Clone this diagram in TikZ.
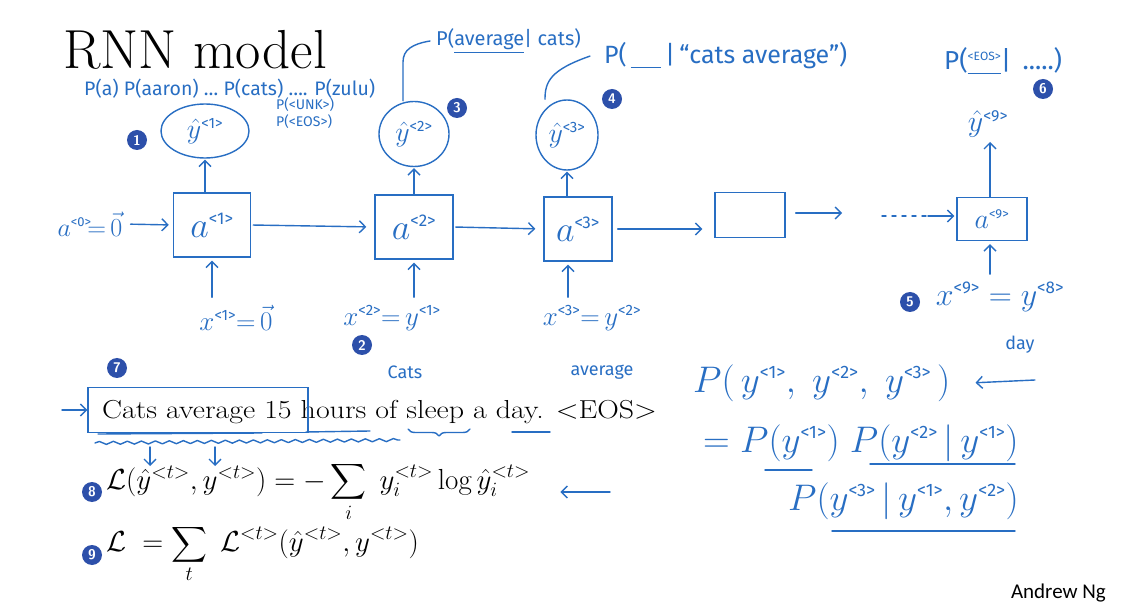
\RequirePackage{fix-cm}
\documentclass[tikz,border=0pt]{standalone}
\usepackage{amsmath}
\usepackage{fontspec}
\newfontfamily\handfont{Fira Sans}
\newfontfamily\ngfont{Carlito}
\usetikzlibrary{shapes.geometric,arrows.meta,decorations.pathmorphing,decorations.pathreplacing}
\definecolor{hb}{RGB}{40,110,195}
\definecolor{bb}{RGB}{45,80,170}
\newcommand{\fs}[1]{\fontsize{#1}{#1}\selectfont}
\newcommand{\ang}[2][14]{\text{\handfont\fontsize{#1}{#1}\selectfont<#2>}}
\begin{document}
\begin{tikzpicture}[x=1pt,y=-1pt,
  hand/.style={draw=hb, line width=1.4pt, line cap=round, line join=round},
  arr/.style={hand, -{Straight Barb[length=6pt,width=12pt]}},
  cell/.style={draw=hb, line width=1.4pt, inner sep=0pt, text=hb, font=\fs{36}},
  outc/.style={ellipse, draw=hb, line width=1.4pt, inner sep=0pt, text=hb, font=\fs{28}},
  lab/.style={text=hb, inner sep=0pt},
  badge/.style={circle, fill=bb, text=white, font=\sffamily\bfseries\fs{14}, minimum size=20pt, inner sep=0pt},
]
\useasboundingbox[fill=white] (0,0) rectangle (1143,609);

% title
\node[anchor=base west, inner sep=0pt, font=\fs{55}] (title) at (63,69) {RNN model};

% vocabulary
\node[lab, anchor=base west, font=\handfont\fs{19.5}] (voc) at (84,96) {P(a) P(aaron) \dots\ P(cats) \dots. P(zulu)};
\node[lab, anchor=base west, font=\handfont\fs{14}] (unk) at (276,110) {P(<UNK>)};
\node[lab, anchor=base west, font=\handfont\fs{14}] (eos) at (276,127) {P(<EOS>)};

% cells
\node[cell, minimum width=77pt, minimum height=64pt] (b1) at (212,225) {$a^{\ang[17]{1}}$};
\node[cell, minimum width=78pt, minimum height=64pt] (b2) at (414,227) {$a^{\ang[17]{2}}$};
\node[cell, minimum width=68pt, minimum height=64pt] (b3) at (578,229) {$a^{\ang[17]{3}}$};
\node[cell, minimum width=70pt, minimum height=45pt] (b4) at (750,215) {};
\node[cell, minimum width=70pt, minimum height=43pt, font=\fs{28}] (b5) at (992,219) {$a^{\ang[13]{9}}$};

% outputs
\node[outc, minimum width=88pt, minimum height=54pt] (e1) at (205,131) {$\hat{y}^{\ang[15]{1}}$};
\node[outc, minimum width=70pt, minimum height=65pt] (e2) at (414,134) {$\hat{y}^{\ang[15]{2}}$};
\node[outc, minimum width=62pt, minimum height=70pt] (e3) at (567,135) {$\hat{y}^{\ang[15]{3}}$};
\node[lab, font=\fs{30}] (e9) at (988,124) {$\hat{y}^{\ang[16]{9}}$};

% inputs
\node[lab, font=\fs{26}] (a0) at (90,224) {$a^{\ang[13]{0}}\!{=}\,\vec{0}$};
\node[lab, font=\fs{27}] (x1) at (236,318) {$x^{\ang[15]{1}}{=}\,\vec{0}$};
\node[lab, font=\fs{27}] (x2) at (392,318) {$x^{\ang[15]{2}}{=}\,y^{\ang[15]{1}}$};
\node[lab, font=\fs{27}] (x3) at (592,318) {$x^{\ang[15]{3}}{=}\,y^{\ang[15]{2}}$};
\node[lab, font=\fs{32}] (x9) at (1000,297) {$x^{\ang[17]{9}} = y^{\ang[17]{8}}$};
\node[lab, font=\handfont\fs{18}] (w2) at (405,372) {Cats};
\node[lab, font=\handfont\fs{18}] (w3) at (602,372) {average};
\node[lab, font=\handfont\fs{18}] (w9) at (1020,345) {day};

% probability labels
\node[lab, anchor=west, font=\handfont\fs{20}] (p2) at (436,41) {P(\underline{average}| cats)};
\node[lab, anchor=base west, font=\handfont\fs{25}] (p3) at (604,64) {P(\,\underline{\hspace{30pt}}\,|\,“cats average”)};
\node[lab, anchor=base west, font=\handfont\fs{26}] (p9) at (944,70) {P(\underline{\raisebox{9pt}{\fs{12}<EOS>}}|\, .....)};

% badges
\node[badge] (n1) at (137,140) {1};
\node[badge] (n2) at (362,345) {2};
\node[badge] (n3) at (457,108) {3};
\node[badge] (n4) at (612,99) {4};
\node[badge] (n5) at (910,302) {5};
\node[badge] (n6) at (1043,89) {6};
\node[badge] (n7) at (117,368) {7};
\node[badge] (n8) at (92,492) {8};
\node[badge] (n9) at (92,555) {9};

% horizontal connectors
\draw[arr, shorten <=8pt, shorten >=4pt] (a0.east) -- (b1.west);
\draw[arr, shorten <=2pt, shorten >=8pt] (b1.east) -- (b2.west);
\draw[arr, shorten <=2pt, shorten >=8pt] (b2.east) -- (b3.west);
\draw[arr, shorten <=5pt, shorten >=12pt] (b3.east) -- (b4.west |- b3.east);
\coordinate (c1) at (842,213);
\coordinate (d0) at (882,216);
\coordinate (d1) at (928,216);
\draw[arr, shorten <=10pt] (b4.east |- c1) -- (c1);
\draw[hand, dash pattern=on 4pt off 6pt] (d0) -- (d1);
\draw[arr, shorten >=2pt] (d1) -- (b5.west |- d1);

% vertical connectors
\draw[arr, shorten <=8pt, shorten >=3pt] (b1.south |- x1.north) -- (b1.south);
\draw[arr, shorten <=8pt, shorten >=3pt] (b2.south |- x2.north) -- (b2.south);
\draw[arr, shorten <=8pt, shorten >=3pt] ([xshift=-10pt]b3.south |- x3.north) -- ([xshift=-10pt]b3.south);
\draw[arr, shorten <=8pt, shorten >=3pt] ([xshift=-2pt]b5.south |- x9.north) -- ([xshift=-2pt]b5.south);
\draw[arr, shorten >=1pt] (b1.north -| e1.south) -- (e1.south);
\draw[arr, shorten >=1pt] (b2.north -| e2.south) -- (e2.south);
\draw[arr, shorten >=1pt] (b3.north -| e3.south) -- (e3.south);
\draw[arr, shorten >=4pt] ([xshift=-2pt]b5.north) -- ([xshift=-2pt]b5.north |- e9.south);

% brackets to probability labels
\draw[hand] ([xshift=-11pt]e2.north) -- (403,62) .. controls (403,50) and (412,44) .. ([xshift=-6pt]p2.west);
\draw[hand] ([xshift=-22pt]e3.north) .. controls (545,82) and (550,70) .. ([xshift=-14pt]p3.west);

% sentence
\node[anchor=base west, inner sep=0pt, font=\fs{26}] (sent) at (102,418) {\scalebox{1.15}[1]{Cats average 15 hours of sleep a day. <EOS>}};
\node[draw=hb, line width=1.4pt, inner sep=0pt, minimum width=220pt, minimum height=45pt] (sbox) at (198,410) {};
\coordinate (sa) at (62,410);
\draw[arr] (sa) -- (sbox.west);
\draw[hand] (98,434) -- (262,433);
\draw[hand, decorate, decoration={snake, amplitude=1.5pt, segment length=14pt}] (95,443) -- (400,440);
\draw[hand] (306,432) -- (370,431);
\draw[hand, decorate, decoration={brace, mirror, amplitude=7pt}] (408,429) -- (470,429);
\draw[hand] (512,432) -- (550,432);
\coordinate (dA) at (150,447);
\coordinate (dB) at (215,447);
\coordinate (dA2) at (150,466);
\coordinate (dB2) at (215,466);
\draw[arr] (dA) -- (dA2);
\draw[arr] (dB) -- (dB2);

% loss equations
\node[anchor=west, inner sep=0pt, font=\fs{29}] (eq8) at (106,492) {$\mathcal{L}(\hat{y}^{<t>}, y^{<t>}) = -\displaystyle\sum_{i}\; y_i^{<t>}\log\hat{y}_i^{<t>}$};
\node[anchor=west, inner sep=0pt, font=\fs{29}] (eq9) at (106,554) {$\mathcal{L} \;=\displaystyle\sum_{t}\;\mathcal{L}^{<t>}(\hat{y}^{<t>}, y^{<t>})$};
\coordinate (l8) at (610,492);
\draw[arr] (l8) -- ([xshift=30pt]eq8.east);

% joint probability
\node[lab, anchor=base west, font=\fs{37}] (j1) at (693,392) {$P(\,y^{\ang[18]{1}},\; y^{\ang[18]{2}},\; y^{\ang[18]{3}}\,)$};
\node[lab, anchor=base west, font=\fs{37}] (j2) at (703,452) {$=P(y^{\ang[18]{1}})\;P(y^{\ang[18]{2}}\,|\,y^{\ang[18]{1}})$};
\node[lab, anchor=base west, font=\fs{37}] (j3) at (788,510) {$P(y^{\ang[18]{3}}\,|\,y^{\ang[18]{1}},y^{\ang[18]{2}})$};
\coordinate (ja) at (1035,380);
\draw[arr] (ja) -- ([xshift=25pt]j1.east);
\draw[hand] (765,470) -- (812,470);
\draw[hand] (870,464) -- (1015,464);
\draw[hand] (832,531) -- (1015,531);

% author
\node[anchor=base east, inner sep=0pt, font=\ngfont\fs{21}] (ng) at (1106,598) {Andrew Ng};
\end{tikzpicture}
\end{document}
